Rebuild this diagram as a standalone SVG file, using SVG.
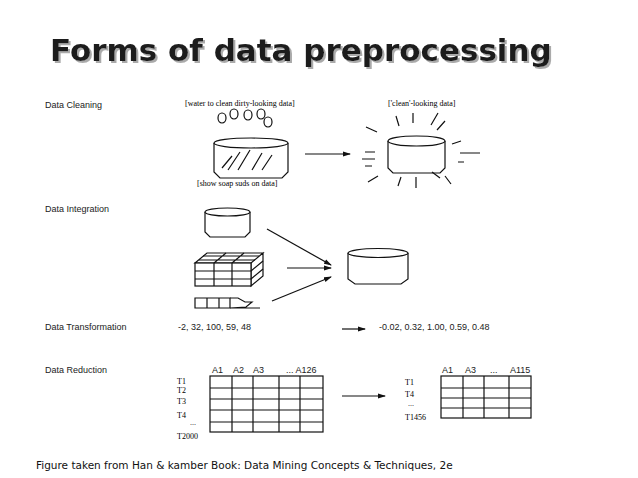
<svg xmlns="http://www.w3.org/2000/svg" width="638" height="478" viewBox="0 0 638 478">
<style>
.lbl{font-family:"Liberation Sans",Arial,sans-serif;font-size:9px;fill:#222}
.ser{font-family:"Liberation Serif","Times New Roman",serif;font-size:8px;fill:#000}
.s{fill:none;stroke:#111;stroke-width:1.2}
.w{fill:#fff;stroke:#111;stroke-width:1.2}
</style>
<defs>
<marker id="ah" markerWidth="8" markerHeight="6" refX="7" refY="3" orient="auto" markerUnits="userSpaceOnUse"><path d="M0,0.5 L8,3 L0,5.5z" fill="#111"/></marker>
<filter id="sh" x="-5%" y="-20%" width="110%" height="150%"><feDropShadow dx="2" dy="2" stdDeviation="0.6" flood-color="#aaa"/></filter>
</defs>
<rect width="638" height="478" fill="#fff"/>
<text x="50" y="61" font-family="Verdana,'DejaVu Sans',sans-serif" font-weight="bold" font-size="31" fill="#1a1a1a" filter="url(#sh)">Forms of data preprocessing</text>

<g id="cleaning">
<text class="lbl" x="45" y="108">Data Cleaning</text>
<text class="ser" x="185" y="106">[water to clean dirty-looking data]</text>
<g class="w"><ellipse cx="222" cy="118" rx="4" ry="5"/><ellipse cx="234" cy="114" rx="4" ry="5"/><ellipse cx="248" cy="115" rx="4" ry="5"/><ellipse cx="261" cy="114" rx="4" ry="5"/><ellipse cx="268" cy="122" rx="4" ry="5"/></g>
<path class="w" d="M214,143 V172 L220,178 H282 L288,172 V143"/>
<ellipse class="w" cx="251" cy="143" rx="37" ry="5"/>
<path class="s" d="M222,168 L232,156 M228,170 L240,152 M238,170 L250,150 M252,170 L262,153 M262,170 L272,155"/>
<text class="ser" x="197" y="186">[show soap suds on data]</text>
<text class="ser" x="388" y="106">['clean'-looking data]</text>
<path class="w" d="M388,141 V168 L393,173 H440 L445,168 V141"/>
<ellipse class="w" cx="416.5" cy="141" rx="28.5" ry="5"/>
<path class="s" d="M366,127 L377,132 M396,116 L399,126 M413,113 V123 M438,113 L431,125 M445,121 L437,130 M461,141 L452,144 M460,153 H480 M458,162 H464 M365,152 H375 M362,159 H375 M365,166 H372 M368,182 L378,176 M398,186 L401,177 M416,188 V177 M440,178 L432,172 M451,184 L445,176"/>
</g>

<g id="integration">
<text class="lbl" x="45" y="212">Data Integration</text>
<path class="w" d="M205,212 V232 L210,237 H245 L250,232 V212"/>
<ellipse class="w" cx="227.5" cy="212" rx="22.5" ry="4"/>
<path class="w" d="M195,263 L207,253 H263 L251,263 Z M251,263 L263,253 V276 L251,286 Z"/>
<rect class="w" x="195" y="263" width="56" height="23"/>
<path class="s" d="M214,263 V286 M232,263 V286 M195,271 H251 M195,279 H251 M214,263 L226,253 M232,263 L244,253 M199,260 H255 M203,256 H259 M251,271 L263,261 M251,279 L263,269"/>
<path class="w" d="M195,298 H230 V308 H195 Z"/>
<path class="s" d="M207,298 V308 M219,298 V308 M230,298 H238 L245,302 L252,302 L246,307 L230,308 M232,308 H260"/>
<path class="w" d="M348,253 V279 L355,284 H401 L408,279 V253"/>
<ellipse class="w" cx="378" cy="253" rx="30" ry="4.5"/>
</g>

<g id="transformation">
<text class="lbl" x="45" y="330">Data Transformation</text>
<text class="lbl" x="178" y="330">-2, 32, 100, 59, 48</text>
<text class="lbl" x="379" y="330">-0.02, 0.32, 1.00, 0.59, 0.48</text>
</g>

<g id="reduction">
<text class="lbl" x="45" y="373">Data Reduction</text>
<g class="lbl"><text x="212" y="373">A1</text><text x="233" y="373">A2</text><text x="253" y="373">A3</text><text x="286" y="373">... A126</text></g>
<g class="ser"><text x="177" y="384">T1</text><text x="177" y="393">T2</text><text x="177" y="404">T3</text><text x="177" y="418">T4</text><text x="190" y="425">...</text><text x="177" y="439">T2000</text></g>
<rect class="s" x="210" y="376" width="113" height="56"/>
<path class="s" d="M232,376 V432 M253,376 V432 M279,376 V432 M300,376 V432 M210,388 H323 M210,399 H323 M210,410 H323 M210,422 H323"/>
<g class="lbl"><text x="442" y="373">A1</text><text x="465" y="373">A3</text><text x="490" y="373">...</text><text x="510" y="373">A115</text></g>
<g class="ser"><text x="405" y="385">T1</text><text x="405" y="397">T4</text><text x="408" y="406">...</text><text x="405" y="420">T1456</text></g>
<rect class="s" x="441" y="376" width="90" height="42"/>
<path class="s" d="M463,376 V418 M484,376 V418 M509,376 V418 M441,388 H531 M441,398 H531 M441,408 H531"/>
</g>

<g id="connectors">
<line class="s" x1="305" y1="154" x2="350" y2="154" marker-end="url(#ah)"/>
<line class="s" x1="267" y1="229" x2="331" y2="265" marker-end="url(#ah)"/>
<line class="s" x1="287" y1="268" x2="331" y2="268" marker-end="url(#ah)"/>
<line class="s" x1="272" y1="301" x2="331" y2="277" marker-end="url(#ah)"/>
<line class="s" x1="342" y1="329" x2="365" y2="329" marker-end="url(#ah)"/>
<line class="s" x1="342" y1="396" x2="385" y2="396" marker-end="url(#ah)"/>
</g>

<text x="36" y="469" font-family="Verdana,'DejaVu Sans',sans-serif" font-size="10.5" fill="#111">Figure taken from Han &amp; kamber Book: Data Mining Concepts &amp; Techniques, 2e</text>
</svg>
